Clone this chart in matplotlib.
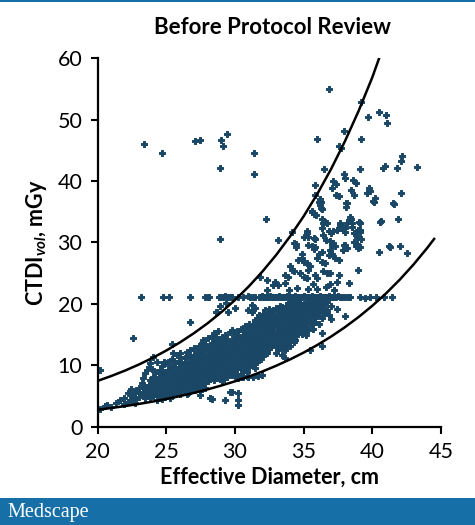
import matplotlib
matplotlib.use("Agg")
import matplotlib.pyplot as plt
from matplotlib.patches import Rectangle

plt.rcParams['font.family'] = ['Lato', 'DejaVu Sans']
plt.rcParams['mathtext.fontset'] = 'custom'
plt.rcParams['mathtext.rm'] = 'Lato:bold'
plt.rcParams['mathtext.it'] = 'Lato:bold:italic'
plt.rcParams['mathtext.bf'] = 'Lato:bold'

# ---------------- data ----------------
title = "Before Protocol Review"
xlabel = "Effective Diameter, cm"
ylabel = r"CTDI$_{vol}$, mGy"
x_ticks = [20, 25, 30, 35, 40, 45]
y_ticks = [0, 10, 20, 30, 40, 50, 60]

# reference curves (read every 1 cm)
upper_x = [20, 21, 22, 23, 24, 25, 26, 27, 28, 29, 30, 31, 32, 33, 34, 35, 36, 37, 38, 39, 40, 40.5]
upper_y = [7.5, 8.3, 9.18, 10.16, 11.24, 12.44, 13.77, 15.24, 16.86, 18.66, 20.65, 22.85,
           25.29, 27.98, 30.97, 34.27, 37.92, 41.96, 46.44, 51.39, 56.87, 60.0]
lower_x = [20, 21, 22, 23, 24, 25, 26, 27, 28, 29, 30, 31, 32, 33, 34, 35, 36, 37, 38,
           39, 40, 41, 42, 43, 44, 44.5]
lower_y = [2.8, 3.09, 3.4, 3.75, 4.13, 4.56, 5.03, 5.54, 6.11, 6.74, 7.43, 8.19, 9.03,
           9.96, 10.98, 12.1, 13.34, 14.71, 16.22, 17.88, 19.71, 21.73, 23.96, 26.42, 29.12, 30.58]

# dense core: (diameter, [CTDI values read in that column])
core_cols = [
    (20.2, [3.0]), (20.5, [3.4]), (20.7, [3.6]), (21.0, [3.3]), (21.3, [3.9]),
    (21.6, [4.4]), (21.9, [4.7, 3.8]), (22.2, [4.1, 5.6]), (22.4, [4.4, 6.2]),
    (22.5, [4.8]), (22.6, [5.0]), (22.7, [5.5, 3.9]), (22.8, [6.0, 4.6]),
    (23.0, [6.3, 4.9, 5.6]), (23.2, [5.2, 7.2]), (23.3, [5.7, 7.9]),
    (23.45, [4.7, 8.7, 6.5]), (23.6, [5.2, 9.3, 6.0]), (23.7, [6.8, 9.8, 5.5]),
    (23.8, [10.4, 7.6, 6.2, 4.9]), (23.95, [7.4, 9.5, 5.6]), (24.05, [6.6, 11.4, 8.1, 5.1]),
    (24.2, [7.1, 9.0, 6.0, 5.4]), (24.3, [6.0, 10.6, 7.8, 4.4]), (24.45, [7.9, 6.6, 5.0, 8.8]),
    (24.55, [6.6, 9.3, 5.7, 7.3]), (24.65, [5.5, 8.2, 9.9, 4.6]), (24.8, [7.1, 10.6, 6.1, 8.6]),
    (24.9, [5.8, 10.4, 7.5, 9.0, 4.9]), (25.0, [7.6, 6.4, 8.3, 5.3]),
    (25.15, [6.6, 9.3, 7.9, 5.6, 10.6]), (25.3, [8.5, 7.4, 4.7, 6.0, 9.7]),
    (25.4, [7.4, 6.8, 8.9, 5.2, 11.1]), (25.5, [9.8, 12.0, 5.2, 7.9, 6.4]),
    (25.6, [7.9, 8.6, 6.9, 10.4, 5.8]), (25.75, [6.8, 11.7, 9.2, 8.1, 7.4, 5.5]),
    (25.9, [6.3, 9.8, 8.6, 7.2, 10.8, 5.9]), (26.0, [7.4, 11.4, 8.9, 6.6, 12.0, 5.4]),
    (26.1, [8.2, 9.6, 7.0, 10.3, 6.1]), (26.25, [8.7, 10.1, 7.6, 6.4, 9.3, 5.8]),
    (26.35, [7.9, 11.2, 9.1, 6.9, 8.4, 10.6]), (26.5, [6.8, 8.6, 9.8, 7.5, 5.4, 12.2]),
    (26.6, [7.6, 11.7, 5.5, 8.9, 10.2, 6.4]), (26.75, [8.5, 7.1, 9.5, 10.8, 6.0, 12.5]),
    (26.85, [9.3, 11.4, 7.8, 6.6, 10.1, 8.3]), (27.0, [8.2, 10.6, 7.0, 9.6, 11.7, 6.3, 12.9]),
    (27.1, [7.4, 10.6, 6.0, 8.8, 9.9, 11.2, 8.0]), (27.2, [8.7, 12.2, 7.2, 10.4, 9.3, 6.7, 11.0]),
    (27.35, [9.8, 7.6, 11.5, 8.5, 13.2, 6.9, 10.2]), (27.45, [7.9, 5.8, 9.1, 10.7, 12.4, 8.4, 11.9]),
    (27.6, [9.0, 11.2, 7.3, 10.0, 13.7, 8.2, 12.6, 6.6]), (27.7, [10.4, 8.6, 12.0, 9.5, 7.7, 11.3, 14.1]),
    (27.85, [9.1, 11.0, 7.1, 12.9, 10.1, 8.4, 13.5, 6.4]),
    (28.0, [9.8, 11.7, 8.1, 12.5, 10.6, 14.4, 7.4, 9.2]),
    (28.15, [10.9, 8.8, 13.2, 11.6, 9.6, 7.8, 12.3, 4.7]),
    (28.3, [11.4, 9.3, 12.8, 10.2, 14.8, 8.3, 13.6, 10.7]),
    (28.45, [10.0, 12.0, 8.8, 11.2, 13.9, 9.5, 15.3, 7.7]),
    (28.6, [11.7, 9.9, 13.1, 10.6, 12.4, 8.5, 14.6]),
    (28.75, [10.4, 12.7, 9.2, 11.5, 14.0, 13.4, 8.0, 15.6]),
    (28.9, [11.0, 9.2, 12.6, 8.5, 11.8, 14.0, 7.8, 10.2]),
    (29.05, [11.5, 9.7, 10.5, 13.3, 8.4, 12.1, 14.7, 7.5]),
    (29.2, [10.2, 12.7, 9.1, 11.2, 9.8, 14.0, 11.9, 8.1]),
    (29.3, [11.7, 9.5, 13.5, 10.7, 12.4, 8.7, 15.0]),
    (29.45, [12.1, 10.2, 11.3, 14.3, 9.2, 13.0, 8.2, 10.8]),
    (29.6, [11.0, 13.6, 9.9, 12.5, 11.7, 15.4, 8.9, 9.0]),
    (29.75, [12.2, 10.4, 13.9, 11.3, 9.4, 13.2, 15.8, 8.5]),
    (29.9, [11.6, 13.8, 10.1, 12.7, 9.6, 14.6, 11.1, 8.9]),
    (30.0, [13.0, 10.9, 12.0, 15.1, 10.0, 11.6, 14.0, 8.6]),
    (30.15, [11.9, 14.3, 10.4, 13.2, 9.5, 12.6, 15.6, 8.0]),
    (30.25, [12.9, 11.3, 13.9, 10.7, 14.9, 9.9, 12.2, 5.5]),
    (30.4, [13.4, 11.8, 14.5, 11.0, 12.6, 16.0, 9.8, 8.6]),
    (30.55, [12.2, 14.8, 11.4, 13.8, 10.5, 15.6, 12.9, 9.3]),
    (30.7, [13.2, 11.9, 15.2, 10.9, 14.1, 12.5, 16.4, 9.9]),
    (30.85, [14.5, 12.3, 13.6, 11.3, 15.8, 10.4, 15.0, 9.0]),
    (31.0, [13.1, 15.5, 12.0, 14.1, 12.7, 16.8, 10.8, 9.7]),
    (31.15, [14.4, 12.9, 16.2, 11.5, 13.7, 15.1, 10.4]),
    (31.3, [13.5, 15.8, 12.3, 14.8, 11.2, 16.8, 10.1, 13.9]),
    (31.45, [14.9, 12.8, 16.1, 13.9, 11.7, 15.4, 17.4, 9.6]),
    (31.6, [13.7, 16.6, 12.3, 15.0, 14.3, 11.2, 17.7, 10.5]),
    (31.75, [15.4, 13.2, 16.0, 14.4, 12.5, 17.1, 11.6, 18.2]),
    (31.9, [14.1, 16.4, 13.5, 15.4, 12.1, 17.6, 14.8, 11.0]),
    (32.05, [15.8, 13.8, 17.0, 14.5, 12.8, 16.4, 18.4, 11.5]),
    (32.2, [14.9, 17.3, 13.3, 16.0, 15.4, 12.3, 18.0, 19.0]),
    (32.35, [16.3, 14.3, 17.7, 15.0, 13.7, 16.8, 12.0, 18.7]),
    (32.5, [15.4, 17.1, 14.7, 16.3, 13.2, 18.2, 12.6, 19.2]),
    (32.65, [16.8, 14.8, 17.7, 15.8, 14.0, 18.6, 13.0, 16.1]),
    (32.8, [15.3, 17.3, 14.4, 18.2, 16.5, 13.5, 19.0]),
    (32.95, [16.7, 15.0, 17.9, 14.1, 17.2, 19.4, 13.1, 12.0]),
    (33.1, [15.8, 17.7, 16.3, 18.6, 14.6, 19.2, 13.7, 12.8]),
    (33.25, [17.2, 15.4, 18.2, 16.5, 14.3, 19.7, 12.9]),
    (33.4, [16.1, 18.7, 15.1, 17.6, 16.9, 14.0, 19.5]),
    (33.55, [17.9, 15.8, 18.5, 16.6, 14.8, 19.3, 13.4, 17.2]),
    (33.7, [17.0, 19.0, 15.6, 17.8, 14.4, 19.7, 13.0]),
    (33.85, [18.3, 16.4, 17.6, 15.2, 19.3, 13.8, 16.9, 20.1]),
    (34.0, [17.2, 19.0, 15.9, 18.2, 14.7, 19.7, 13.2, 16.6]),
    (34.15, [18.6, 16.8, 19.4, 15.5, 17.8, 14.3, 17.4, 20.3]),
    (34.3, [17.3, 19.3, 16.3, 18.6, 15.2, 19.9, 20.5, 16.9]),
    (34.45, [18.9, 17.7, 15.9, 19.6, 16.6, 14.8, 18.2, 20.4]),
    (34.6, [17.3, 19.7, 16.3, 18.4, 15.4, 17.9, 20.3]),
    (34.75, [18.8, 16.8, 19.4, 17.9, 15.7, 20.2]),
    (34.9, [17.6, 19.7, 16.4, 18.5, 15.2, 19.1]),
    (35.05, [19.0, 17.1, 19.9, 18.1, 16.0]),
    (35.2, [17.7, 19.5, 16.3, 18.7, 15.0, 20.3]),
    (35.35, [19.2, 17.3, 20.0, 15.8, 18.3]),
    (35.5, [18.2, 19.6, 16.8, 18.9, 20.4]),
    (35.65, [19.4, 17.5, 20.1, 16.0]),
    (35.8, [18.5, 19.8, 17.0, 20.4]),
    (35.95, [19.3, 18.0, 20.1]),
    (36.1, [18.7, 19.9, 16.7]),
    (36.3, [19.4, 17.8, 20.5]),
    (36.5, [19.9, 18.6]),
    (36.7, [19.0, 20.3]),
    (37.0, [19.6, 17.6]),
    (37.4, [19.2]),
    (38.0, [18.0]),
]

# points sitting on the ~21 mGy plateau
cap_pts = [
    (23.16, 21.2), (24.78, 21.2), (25.2, 21.2), (26.73, 21.2), (27.82, 21.2), (28.06, 21.2),
    (28.13, 21.1), (28.84, 21.2), (28.91, 21.2), (29.15, 21.2), (29.28, 21.3), (29.52, 21.2),
    (29.64, 21.2), (29.77, 21.1), (30.25, 21.2), (30.61, 21.2), (30.98, 21.3), (31.1, 21.2),
    (31.34, 21.2), (31.46, 21.1), (31.71, 21.2), (31.83, 21.2), (31.95, 21.3), (32.07, 21.2),
    (32.2, 21.1), (32.32, 21.2), (32.45, 21.2), (32.56, 21.3), (32.7, 21.2), (32.82, 21.1),
    (32.92, 21.2), (33.05, 21.2), (33.18, 21.3), (33.29, 21.2), (33.41, 21.1), (33.53, 21.2),
    (33.65, 21.2), (33.78, 21.3), (33.9, 21.2), (34.02, 21.1), (34.15, 21.2), (34.27, 21.2),
    (34.38, 21.3), (34.5, 21.2), (34.62, 21.1), (34.74, 21.2), (34.87, 21.2), (34.99, 21.3),
    (35.1, 21.2), (35.23, 21.1), (35.35, 21.2), (35.47, 21.2), (35.6, 21.3), (35.72, 21.2),
    (35.84, 21.1), (35.96, 21.2), (36.08, 21.2), (36.2, 21.3), (36.33, 21.2), (36.45, 21.1),
    (36.57, 21.2), (36.69, 21.2), (36.81, 21.3), (36.93, 21.2), (37.06, 21.1), (37.2, 21.2),
    (37.35, 21.2), (37.5, 21.3), (37.65, 21.2), (37.8, 21.1), (38.0, 21.2), (38.2, 21.2),
    (38.4, 21.1), (39.12, 21.2), (39.49, 21.0), (39.85, 21.2), (40.3, 21.1), (40.82, 21.2),
    (41.43, 21.2),
]

# points above the plateau and isolated high values
upper_pts = [
    (23.37, 46.0), (24.66, 44.55), (27.09, 46.45), (27.48, 46.7), (29.01, 46.6), (29.45, 47.6),
    (29.13, 45.7), (28.94, 42.1), (31.39, 44.55), (31.39, 41.1), (32.27, 33.9), (28.94, 30.6),
    (33.14, 30.4), (36.81, 54.9), (39.17, 52.9), (39.72, 50.4), (40.48, 51.2), (41.01, 50.7),
    (41.06, 49.4), (37.93, 48.1), (36.0, 46.8), (37.59, 45.7), (37.73, 45.3), (39.14, 46.8),
    (42.13, 44.0), (42.09, 43.3), (40.89, 42.4), (40.8, 42.1), (41.79, 42.1), (43.27, 42.2),
    (39.12, 41.95), (36.49, 42.0), (37.95, 41.1), (38.02, 40.5), (37.1, 40.0), (37.37, 39.5),
    (38.61, 40.2), (38.8, 39.6), (35.82, 39.35), (37.08, 38.9), (38.41, 38.5), (38.63, 37.7),
    (39.75, 38.8), (39.85, 38.4), (39.6, 38.0), (37.37, 37.8), (37.54, 37.6), (42.1, 38.0),
    (35.82, 37.8), (36.2, 37.0), (38.12, 36.5), (40.16, 37.2), (40.04, 36.8), (41.52, 36.4),
    (36.28, 36.6), (38.08, 35.7), (36.25, 35.6), (35.62, 35.2), (35.77, 34.7), (35.91, 34.5),
    (36.33, 33.8), (36.55, 33.4), (38.46, 33.9), (38.32, 33.5), (38.15, 33.1), (37.61, 33.1),
    (37.66, 32.7), (37.42, 32.1), (37.17, 31.9), (39.02, 33.4), (40.6, 33.5), (41.84, 33.8),
    (39.07, 32.1), (39.12, 31.7), (38.51, 32.5), (38.63, 31.5), (38.88, 30.9), (37.9, 32.0),
    (38.0, 31.7), (36.88, 31.9), (36.98, 31.5), (35.23, 31.8), (36.44, 31.3), (34.99, 30.9),
    (35.79, 30.5), (36.62, 30.4), (39.17, 30.6), (35.35, 29.6), (35.6, 29.4), (35.84, 29.3),
    (36.9, 30.2), (37.1, 29.9), (37.25, 29.5), (37.97, 29.6), (38.68, 30.0), (38.83, 29.4),
    (41.23, 29.4), (42.04, 29.4), (34.43, 29.7), (34.14, 31.7), (34.26, 29.9), (34.45, 29.3),
    (34.87, 28.2), (35.72, 28.9), (34.62, 27.2), (34.87, 27.4), (34.99, 26.9), (35.23, 26.6),
    (35.47, 26.1), (35.35, 25.5), (34.02, 26.1), (34.14, 25.5), (34.26, 25.3), (33.65, 24.7),
    (33.89, 24.4), (34.74, 25.0), (34.99, 24.4), (35.23, 24.2), (35.84, 24.7), (35.96, 24.2),
    (36.44, 25.3), (36.69, 25.0), (36.93, 25.0), (37.54, 24.7), (36.33, 26.9), (36.57, 26.7),
    (35.96, 27.4), (36.08, 28.2), (36.33, 28.5), (36.93, 28.8), (37.06, 28.2), (36.81, 28.0),
    (37.06, 29.6), (37.66, 32.8), (37.54, 32.3), (38.03, 32.3), (38.27, 33.7), (38.39, 34.1),
    (38.51, 33.2), (38.99, 32.0), (39.12, 33.2), (38.03, 29.6), (38.15, 29.1), (37.9, 28.8),
    (38.88, 29.8), (38.99, 29.1), (39.12, 29.2), (37.3, 27.4), (37.54, 27.2), (38.99, 25.6),
    (37.42, 23.6), (38.27, 23.4), (40.45, 28.4), (41.3, 29.3), (42.52, 28.3), (40.58, 33.3),
    (41.55, 36.2), (40.09, 36.6), (38.1, 36.5), (36.2, 36.1), (36.33, 35.4), (36.08, 36.6),
    (35.6, 35.0), (36.44, 33.1), (36.69, 33.1), (36.33, 32.3), (35.23, 31.6), (35.35, 30.9),
    (35.72, 30.7), (32.32, 23.9), (32.92, 23.4), (33.16, 23.1), (31.83, 24.4), (32.3, 22.3),
    (32.8, 23.1), (32.9, 23.6), (33.65, 23.4), (35.3, 22.5), (36.0, 22.4), (36.6, 22.8),
    (37.2, 22.3), (34.5, 22.6), (33.9, 22.2), (36.9, 23.2), (35.7, 23.3),
]

# isolated points outside the main band (below and just above it)
other_pts = [
    (20.17, 9.3), (22.6, 14.4), (25.44, 13.5), (26.73, 17.1),
    (27.46, 5.2), (28.19, 4.66), (29.28, 4.39), (30.25, 4.39), (30.25, 3.57), (29.64, 5.74),
    (30.25, 7.91), (30.6, 8.18), (30.98, 8.18), (31.47, 10.35), (31.34, 10.9), (33.41, 11.7),
    (33.65, 12.5), (33.53, 13.3), (34.26, 13.9), (34.38, 14.1), (34.14, 15.0), (36.81, 18.2),
    (34.87, 16.3), (36.33, 15.3), (35.47, 12.5), (36.33, 13.1), (33.65, 11.2), (28.31, 4.5),
    (29.77, 5.7), (30.5, 8.2), (30.9, 8.3), (31.3, 8.2), (31.7, 8.3), (31.95, 8.4),
    (28.67, 18.75), (29.52, 18.75), (30.01, 19.3), (31.22, 18.75), (28.9, 19.6), (29.35, 20.1),
    (31.22, 19.8), (31.46, 19.3), (30.98, 19.0), (28.6, 18.7),
]

# ---------------- assemble ----------------
xs, ys = [], []
for cx, vals in core_cols:
    for v in vals:
        xs.append(cx)
        ys.append(v)
for group in (cap_pts, upper_pts, other_pts):
    for px_, py_ in group:
        xs.append(px_)
        ys.append(py_)

point_color = '#1a4766'
band_color = '#176fa8'

fig = plt.figure(figsize=(4.75, 5.25), dpi=100)
ax = fig.add_axes([0.2057, 0.1867, 0.7227, 0.7028])

ax.scatter(xs, ys, marker='P', s=24, color=point_color, edgecolors=point_color,
           linewidths=0.7, zorder=2)
ax.plot(upper_x, upper_y, color='black', lw=1.8, zorder=3)
ax.plot(lower_x, lower_y, color='black', lw=1.8, zorder=3)

ax.set_xlim(20, 45)
ax.set_ylim(0, 60)
ax.set_xticks(x_ticks)
ax.set_yticks(y_ticks)
ax.tick_params(axis='both', direction='out', length=5, width=1.5, labelsize=15.5, pad=6)
for s in ['top', 'right']:
    ax.spines[s].set_visible(False)
for s in ['left', 'bottom']:
    ax.spines[s].set_linewidth(1.6)
ax.set_xlabel(xlabel, fontsize=15.5, fontweight='bold', labelpad=3)
ax.set_ylabel(ylabel, fontsize=15.5, fontweight='bold', labelpad=6)
ax.set_title(title, fontsize=16, fontweight='bold', pad=17, x=0.51)

# Medscape band and top rule
fig.patches.append(Rectangle((0, 0), 1, 27 / 525, transform=fig.transFigure,
                             facecolor=band_color, edgecolor='none', zorder=0))
fig.patches.append(Rectangle((0, 1 - 2 / 525), 1, 2 / 525, transform=fig.transFigure,
                             facecolor=band_color, edgecolor='none', zorder=0))
fig.text(7 / 475, 13 / 525, "Medscape", color='white', fontsize=14.5,
         family='Liberation Serif', va='center', ha='left')

fig.savefig('out.png', dpi=100)
